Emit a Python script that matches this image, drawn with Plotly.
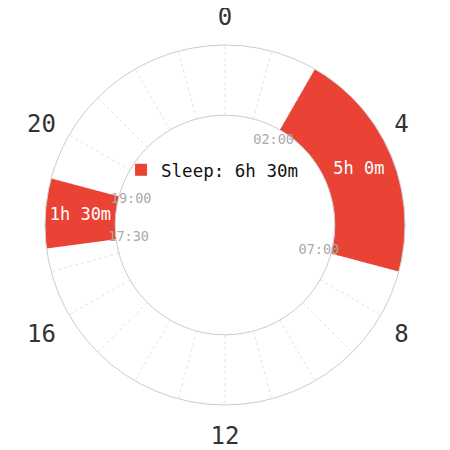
import plotly.graph_objects as go

# Data
session_starts = [2.0, 17.5]   # hours
session_ends = [7.0, 19.0]     # hours
start_labels = ["02:00", "17:30"]
end_labels = ["07:00", "19:00"]
hour_ticks = list(range(24))
major_every = 4

def fmt(h):
    m = int(round(h * 60))
    return f"{m // 60}h {m % 60}m"

durations = [e - s for s, e in zip(session_starts, session_ends)]
centers = [(s + e) / 2 * 15 for s, e in zip(session_starts, session_ends)]
widths = [d * 15 for d in durations]
total = sum(durations)

RED = "#EA4335"
FONT = "DejaVu Sans Mono"

fig = go.Figure()
fig.add_trace(go.Barpolar(
    r=[1] * len(centers), theta=centers, width=widths, base=0,
    marker=dict(color=RED, line=dict(width=0)),
    name=f"Sleep: {fmt(total)}", hoverinfo="skip",
))
fig.add_trace(go.Scatterpolar(
    r=[0.5] * len(centers), theta=centers, mode="text",
    text=[fmt(d) for d in durations],
    textfont=dict(color="white", size=17, family=FONT),
    showlegend=False, hoverinfo="skip",
))
edge_theta = [h * 15 for h in session_starts + session_ends]
fig.add_trace(go.Scatterpolar(
    r=[0.54] * len(edge_theta), theta=edge_theta, mode="text",
    text=start_labels + end_labels,
    textfont=dict(color="#aaaaaa", size=13.5, family=FONT),
    showlegend=False, hoverinfo="skip", subplot="polar2",
))

fig.update_layout(
    width=450, height=450,
    margin=dict(l=37, r=53, t=37, b=53),
    paper_bgcolor="white", plot_bgcolor="white",
    font=dict(family=FONT),
    showlegend=True,
    legend=dict(x=0.464, y=0.653, xanchor="center", yanchor="middle",
                bgcolor="rgba(0,0,0,0)", font=dict(size=17.5, color="#111111", family=FONT)),
    polar=dict(
        hole=0.61,
        bgcolor="white",
        domain=dict(x=[0, 1], y=[0, 1]),
        radialaxis=dict(range=[0, 1], visible=False, showgrid=False),
        angularaxis=dict(
            rotation=90, direction="clockwise", thetaunit="degrees",
            tickmode="array",
            tickvals=[h * 15 for h in hour_ticks],
            ticktext=[str(h) if h % major_every == 0 else "" for h in hour_ticks],
            tickfont=dict(size=24, color="#333333", family=FONT),
            ticks="outside", ticklen=10, tickcolor="rgba(0,0,0,0)",
            showline=True, linecolor="#cccccc", linewidth=1,
            showgrid=True, gridcolor="#e3e3e3", griddash="dot", gridwidth=1,
        ),
    ),
    polar2=dict(
        hole=0,
        bgcolor="rgba(0,0,0,0)",
        domain=dict(x=[0, 1], y=[0, 1]),
        radialaxis=dict(range=[0, 1], visible=False, showgrid=False),
        angularaxis=dict(rotation=90, direction="clockwise", thetaunit="degrees",
                         visible=False, showgrid=False, showline=False),
    ),
)
fig.write_html("out.html")
